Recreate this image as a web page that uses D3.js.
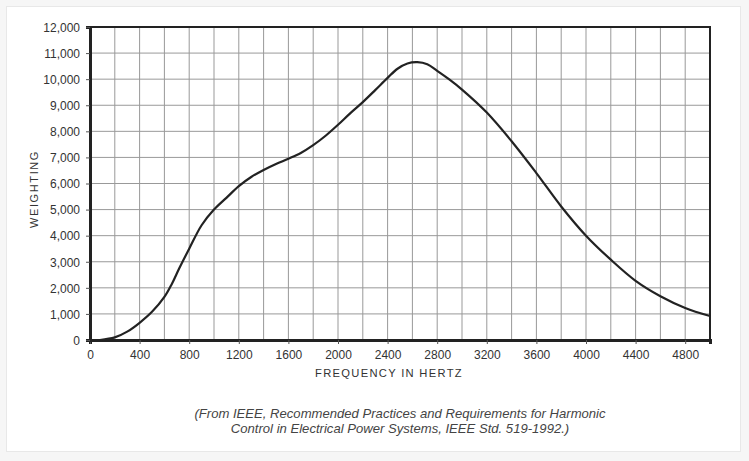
<!DOCTYPE html>
<html>
<head>
<meta charset="utf-8">
<script src="https://cdn.jsdelivr.net/npm/d3@7"></script>
<style>
  html, body { margin: 0; padding: 0; background: #f6f6f6; }
  text { font-family: "Liberation Sans", Arial, sans-serif; }
</style>
</head>
<body>
<div id="chart"></div>
<script>
const width = 749;
const height = 461;

// curve readings (Hz, weighting)
const freq = [80, 200, 300, 400, 500, 600, 660, 720, 800, 900, 1000, 1100, 1200, 1300, 1400, 1500, 1600, 1700, 1800, 1900, 2000, 2100, 2200, 2300, 2400, 2480, 2560, 2640, 2720, 2800, 2900, 3000, 3200, 3400, 3600, 3800, 4000, 4200, 4400, 4600, 4800, 5000];
const weight = [0, 100, 320, 660, 1080, 1650, 2150, 2750, 3500, 4400, 5000, 5450, 5900, 6250, 6520, 6750, 6950, 7170, 7470, 7830, 8250, 8700, 9120, 9580, 10050, 10400, 10600, 10650, 10570, 10320, 9980, 9600, 8720, 7620, 6400, 5120, 4000, 3080, 2270, 1680, 1230, 920];

const xTicks = [0, 400, 800, 1200, 1600, 2000, 2400, 2800, 3200, 3600, 4000, 4400, 4800];
const yTicks = [0, 1000, 2000, 3000, 4000, 5000, 6000, 7000, 8000, 9000, 10000, 11000, 12000];
const caption = [
  "(From IEEE, Recommended Practices and Requirements for Harmonic",
  "Control in Electrical Power Systems, IEEE Std. 519-1992.)"
];

const margin = {top: 27, right: 39, bottom: 121, left: 90};
const innerW = width - margin.left - margin.right;
const innerH = height - margin.top - margin.bottom;

const svg = d3.select("#chart")
  .append("svg")
  .attr("width", width)
  .attr("height", height);

// card
svg.append("rect")
  .attr("x", 6.5)
  .attr("y", 6.5)
  .attr("width", 734)
  .attr("height", 445)
  .attr("fill", "#fff")
  .attr("stroke", "#e8e8e8");

const x = d3.scaleLinear().domain([0, 5000]).range([0, innerW]);
const y = d3.scaleLinear().domain([0, 12000]).range([innerH, 0]);

const g = svg.append("g")
  .attr("transform", `translate(${margin.left},${margin.top})`);

// grid
g.append("g")
  .selectAll("line")
  .data(d3.range(200, 5000, 200))
  .enter().append("line")
  .attr("x1", d => x(d))
  .attr("x2", d => x(d))
  .attr("y1", 0)
  .attr("y2", innerH)
  .attr("stroke", "#999")
  .attr("stroke-width", 1);

g.append("g")
  .selectAll("line")
  .data(yTicks.slice(1, -1))
  .enter().append("line")
  .attr("x1", 0)
  .attr("x2", innerW)
  .attr("y1", d => y(d))
  .attr("y2", d => y(d))
  .attr("stroke", "#999")
  .attr("stroke-width", 1);

// frame
g.append("rect")
  .attr("width", innerW)
  .attr("height", innerH)
  .attr("fill", "none")
  .attr("stroke", "#222")
  .attr("stroke-width", 2);

// axes
const xAxis = g.append("g")
  .attr("transform", `translate(0,${innerH})`)
  .call(d3.axisBottom(x).tickValues(xTicks).tickSize(4).tickPadding(6).tickFormat(d3.format("d")));

const yAxis = g.append("g")
  .call(d3.axisLeft(y).tickValues(yTicks).tickSize(4).tickPadding(6).tickFormat(d3.format(",")));

[xAxis, yAxis].forEach(a => {
  a.select(".domain").attr("stroke", "#222").attr("stroke-width", 3);
  a.selectAll(".tick line").attr("stroke", "#555");
  a.selectAll(".tick text")
    .attr("fill", "#333")
    .style("font-size", "12px")
    .style("font-family", "'Liberation Sans', Arial, sans-serif");
});
yAxis.selectAll(".tick text").attr("dy", "0.36em");

// curve
const line = d3.line()
  .x((d, i) => x(freq[i]))
  .y(d => y(d))
  .curve(d3.curveCatmullRom.alpha(0.5));

g.append("path")
  .datum(weight)
  .attr("fill", "none")
  .attr("stroke", "#222")
  .attr("stroke-width", 2.2)
  .attr("d", line);

// axis titles
svg.append("text")
  .attr("x", 389)
  .attr("y", 377)
  .attr("text-anchor", "middle")
  .attr("fill", "#333")
  .style("font-size", "11.2px")
  .style("letter-spacing", "1.3px")
  .text("FREQUENCY IN HERTZ");

svg.append("text")
  .attr("transform", `translate(38,189) rotate(-90)`)
  .attr("text-anchor", "middle")
  .attr("fill", "#333")
  .style("font-size", "11px")
  .style("letter-spacing", "1.6px")
  .text("WEIGHTING");

// source caption
svg.append("g")
  .selectAll("text")
  .data(caption)
  .enter().append("text")
  .attr("x", 400)
  .attr("y", (d, i) => 418 + i * 15)
  .attr("text-anchor", "middle")
  .attr("fill", "#444")
  .style("font-size", "13.1px")
  .style("font-style", "italic")
  .text(d => d);
</script>
</body>
</html>
